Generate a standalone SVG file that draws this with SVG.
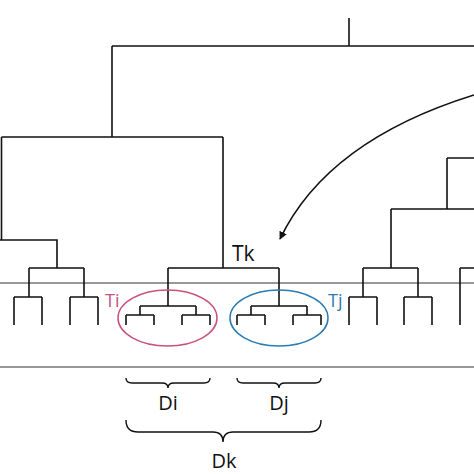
<svg xmlns="http://www.w3.org/2000/svg" width="474" height="474" viewBox="0 0 474 474">
<style>
.t{fill:none;stroke:#111;stroke-width:1.6;stroke-linecap:butt}
.band{stroke:#333;stroke-width:1.2}
.br{fill:none;stroke:#111;stroke-width:1.4}
.lbl{font-family:"Open Sans","Noto Sans",sans-serif;font-size:18px}
.d{font-size:20px}
</style>
<defs>
<marker id="ah" viewBox="0 0 10 10" refX="9" refY="5" markerWidth="8" markerHeight="8" markerUnits="userSpaceOnUse" orient="auto">
<path d="M0,0 L10,5 L0,10 z" fill="#111"/>
</marker>
</defs>
<rect width="474" height="474" fill="#fff"/>
<g id="bands">
<line class="band" x1="0" y1="283" x2="474" y2="283"/>
<line class="band" x1="0" y1="367" x2="474" y2="367"/>
</g>
<g id="tree-top">
<path class="t" d="M349,18 V46 M112,46 H474 M112,46 V137 M1.5,137 H223 M1.5,137 V240"/>
</g>
<g id="tree-left">
<path class="t" d="M0,240 H57 V268 M29,268 H84 M29,268 V297 M84,268 V297 M14,297 H42 M70,297 H98 M14,297 V325 M42,297 V325 M70,297 V325 M98,297 V325"/>
</g>
<g id="Tk">
<path class="t" d="M223,137 V268 M168,268 H279"/>
<text class="lbl" x="232" y="261" fill="#111" style="font-size:21px">Tk</text>
</g>
<g id="Ti">
<path class="t" d="M168,268 V306 M140,306 H196 M140,306 V315 M196,306 V315 M126,315 H154 M182,315 H210 M126,315 V325 M154,315 V325 M182,315 V325 M210,315 V325"/>
<ellipse cx="167.5" cy="318" rx="49.5" ry="28" fill="none" stroke="#c9517e" stroke-width="1.5"/>
<text class="lbl" x="105" y="307" fill="#c9517e">Ti</text>
</g>
<g id="Tj">
<path class="t" d="M279,268 V306 M251,306 H307 M251,306 V315 M307,306 V315 M237,315 H265 M293,315 H321 M237,315 V325 M265,315 V325 M293,315 V325 M321,315 V325"/>
<ellipse cx="279" cy="318" rx="49" ry="28" fill="none" stroke="#2b7bb0" stroke-width="1.5"/>
<text class="lbl" x="328" y="307" fill="#2b7bb0">Tj</text>
</g>
<g id="tree-right">
<path class="t" d="M447,158 H474 M447,158 V209 M391,209 H474 M391,209 V268 M363,268 H418 M363,268 V297 M418,268 V297 M349,297 H377 M404,297 H432 M349,297 V325 M377,297 V325 M404,297 V325 M432,297 V325 M460,268 H474 M460,268 V325"/>
</g>
<g id="connectors">
<path d="M474,95 C400,118 318,160 280,239" fill="none" stroke="#111" stroke-width="1.6" marker-end="url(#ah)"/>
</g>
<g id="braces">
<path class="br" d="M126,378 Q126,383 132,383 H162 Q168,383 168,388 Q168,383 174,383 H204 Q210,383 210,378"/>
<path class="br" d="M237,378 Q237,383 243,383 H273 Q279,383 279,388 Q279,383 285,383 H315 Q321,383 321,378"/>
<path class="br" d="M126,420 Q126,432 138,432 H213 Q223,432 223,442 Q223,432 233,432 H309 Q321,432 321,420"/>
<text class="lbl d" x="168" y="410" text-anchor="middle" fill="#111">Di</text>
<text class="lbl d" x="279" y="410" text-anchor="middle" fill="#111">Dj</text>
<text class="lbl d" x="224" y="468" text-anchor="middle" fill="#111">Dk</text>
</g>
</svg>
